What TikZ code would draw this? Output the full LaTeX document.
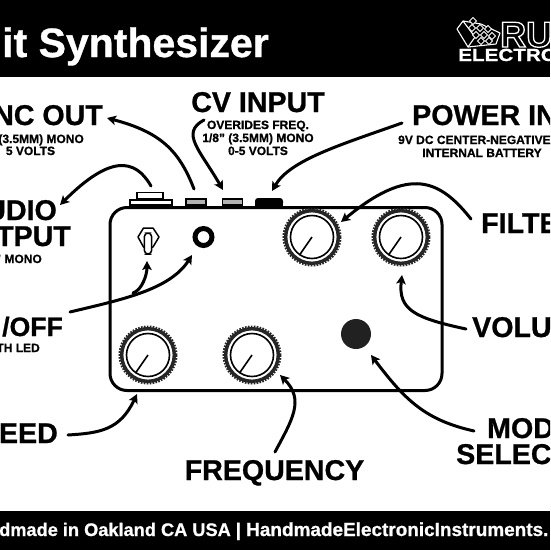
\documentclass[tikz,border=0pt]{standalone}
\usepackage{fontspec}
\setmainfont{Liberation Sans}[BoldFont={Liberation Sans Bold},BoldFeatures={FakeBold=0.8}]
\newfontfamily\logofont{Liberation Sans Bold}
\usetikzlibrary{arrows.meta}
\tikzset{
  lab/.style={inner sep=0pt,font=\fontsize{28.6}{30}\selectfont\bfseries,text=black},
  subl/.style={inner sep=0pt,font=\fontsize{12}{14}\selectfont\bfseries,text=black},
  arr/.style={line width=3pt,-{Stealth[length=9pt,width=9.5pt,inset=2pt]},line cap=round},
  knobring/.style={circle,draw=black,line width=1.6pt,minimum size=43pt,inner sep=0pt,fill=white},
  jack/.style={draw=black,line width=1.6pt,fill=white},
  port/.style={draw=black,line width=1.8pt,fill=gray!60},
}
\newcommand{\knob}[3]{%
  \draw[black!85,line width=3.4pt] (#1,#2) circle (26.3pt);
  \draw[black!85,line width=3pt,dash pattern=on 1.6pt off 1.3pt] (#1,#2) circle (28pt);
  \node[knobring] (#3) at (#1,#2) {};
  \coordinate (#3p) at (#1-12.5,#2+18);
  \draw[line width=1.6pt] (#1,#2) -- (#3p);
}
\begin{document}
\begin{tikzpicture}[x=1pt,y=-1pt]
\useasboundingbox (0,0) rectangle (550,550);
\clip (0,0) rectangle (550,550);
\fill[white] (0,0) rectangle (550,550);
\fill[black] (0,0) rectangle (550,77);
\fill[black] (0,511) rectangle (550,550);
\node[inner sep=0pt,anchor=base west,text=white,font=\fontsize{41}{44}\selectfont\bfseries] (title) at (2,57) {it Synthesizer};
\node[inner sep=0pt,anchor=base west,text=white,font=\fontsize{18.2}{20}\selectfont\bfseries] (foot) at (-1,536) {dmade in Oakland CA USA |};
\node[inner sep=0pt,anchor=base west,text=white,font=\fontsize{18.95}{20}\selectfont\bfseries] (foot2) at (246,536) {HandmadeElectronicInstruments.};
% logo
\draw[white,line width=1.1pt,line join=round,fill=black] (457,29) -- (463,21) -- (481,24) -- (500,33) -- (496,44) -- (468,47) -- cycle;
\draw[white,line width=1.1pt] (463,21) -- (475,37) -- (468,47);
\foreach \a/\b in {472/28,480/28,488/29,476/35,484/35,492/36,481/41,489/41,473/21}{
  \draw[white,line width=0.9pt,fill=black] (\a-3.5,\b) -- (\a,\b-3.5) -- (\a+3.5,\b) -- (\a,\b+3.5) -- cycle;
}
\node[inner sep=0pt,anchor=base west,text=black,font=\logofont\fontsize{36}{38}\selectfont] (ru) at (500,47) {\special{pdf:code q 1 Tr 1.3 w 1 1 1 RG}RU\special{pdf:code Q}};
\node[inner sep=0pt,anchor=base west,text=white,xscale=1.18,font=\fontsize{17.5}{19}\selectfont\bfseries] (el) at (458,61) {ELECTRO};
% box
\node[draw=black,line width=3pt,rounded corners=17pt,minimum width=332pt,minimum height=183pt,inner sep=0pt,anchor=north west] (box) at (108.5,206) {};
% jacks
\draw[jack] (137,192.5) rectangle (163,199);
\draw[jack,line width=2pt] (129.5,199.5) rectangle (171.5,205);
\draw[port] (186,199) rectangle (206,205);
\draw[port] (222.5,199) rectangle (242.5,205);
\fill[black,rounded corners=3pt] (255,198) rectangle (283,206);
\fill[black] (255,202) rectangle (283,206);
% toggle
\draw[line width=1.5pt,line join=round] (138,237) -- (143.5,228) -- (153,228) -- (159,237) -- (153,247) -- (143.5,247) -- cycle;
\draw[line width=1.5pt,fill=white,rounded corners=3.8pt] (144.3,233) rectangle (151.7,254);
\node[circle,draw=black,line width=5pt,minimum size=17pt,inner sep=0pt] (led) at (203.5,237) {};
\node[circle,fill=black!87,minimum size=30pt,inner sep=0pt] (mode) at (356,334) {};
\knob{312}{237}{ka}
\knob{401}{237}{kb}
\knob{148}{355}{kc}
\knob{252}{355}{kd}
% labels
\node[lab,anchor=base east] (syncl) at (103,125) {NC OUT};
\node[lab,anchor=base] (cvl) at (258,112) {CV INPUT};
\node[lab,anchor=base west] (powl) at (412,125) {POWER IN};
\node[lab,anchor=base east] (audl) at (57,220) {UDIO};
\node[lab,anchor=base east] (outl) at (71,246) {TPUT};
\node[lab,anchor=base east,font=\fontsize{26.6}{30}\selectfont\bfseries] (onl) at (63,336) {/OFF};
\node[lab,anchor=base east] (spl) at (58,443) {PEED};
\node[lab,anchor=base west] (fil) at (481,233) {FILTER};
\node[lab,anchor=base west] (vol) at (472,337) {VOLUME};
\node[lab,anchor=base west] (mod) at (487,438) {MODE};
\node[lab,anchor=base west] (sel) at (456,464) {SELECT};
\node[lab,anchor=base] (fre) at (274.5,480) {FREQUENCY};
\node[subl,anchor=base east] (s1) at (84,143) {(3.5MM) MONO};
\node[subl,anchor=base] (s2) at (30.5,155) {5 VOLTS};
\node[subl,anchor=base] (s3) at (258,129) {OVERIDES FREQ.};
\node[subl,anchor=base] (s4) at (258,142) {1/8" (3.5MM) MONO};
\node[subl,anchor=base] (s5) at (258,155) {0-5 VOLTS};
\node[subl,anchor=base west] (s6) at (398,144) {9V DC CENTER-NEGATIVEO};
\node[subl,anchor=base] (s7) at (482,157) {INTERNAL BATTERY};
\node[subl,anchor=base east] (s8) at (42,263) {" MONO};
\node[subl,anchor=base east] (s9) at (40,352) {TH LED};
% connector ends
\coordinate (a1) at (194,189); \coordinate (b1) at (107,118);
\coordinate (a2) at (151,186); \coordinate (b2) at (60,205);
\coordinate (a3) at (204,120); \coordinate (b3) at (223,190);
\coordinate (a4) at (402,123); \coordinate (b4) at (272,191);
\coordinate (a5) at (471,219); \coordinate (b5) at (341,222);
\coordinate (a6) at (466,329); \coordinate (b6) at (402,275);
\coordinate (a7) at (474,431); \coordinate (b7) at (371,355);
\coordinate (a8) at (275,452); \coordinate (b8) at (280,375);
\coordinate (a9) at (68,435);  \coordinate (b9) at (137,394);
\coordinate (a0) at (70,312);  \coordinate (b0) at (192,255);
\coordinate (j0) at (133,293); \coordinate (c0) at (147,261);
\draw[arr] (a1) .. controls (179,150) and (160,132) .. (b1);
\draw[arr] (a2) .. controls (135,158) and (110,155) .. (b2);
\draw[arr] (a3) .. controls (180,133) and (200,150) .. (b3);
\draw[arr] (a4) .. controls (340,145) and (290,160) .. (b4);
\draw[arr] (a5) .. controls (440,180) and (410,165) .. (b5);
\draw[arr] (a6) .. controls (415,318) and (398,310) .. (b6);
\draw[arr] (a7) .. controls (425,420) and (405,400) .. (b7);
\draw[arr] (a8) .. controls (292,420) and (305,400) .. (b8);
\draw[arr] (a9) .. controls (100,433) and (120,430) .. (b9);
\draw[arr] (a0) .. controls (120,300) and (170,290) .. (b0);
\draw[arr] (j0) .. controls (142,290) and (147,275) .. (c0);
\end{tikzpicture}
\end{document}
